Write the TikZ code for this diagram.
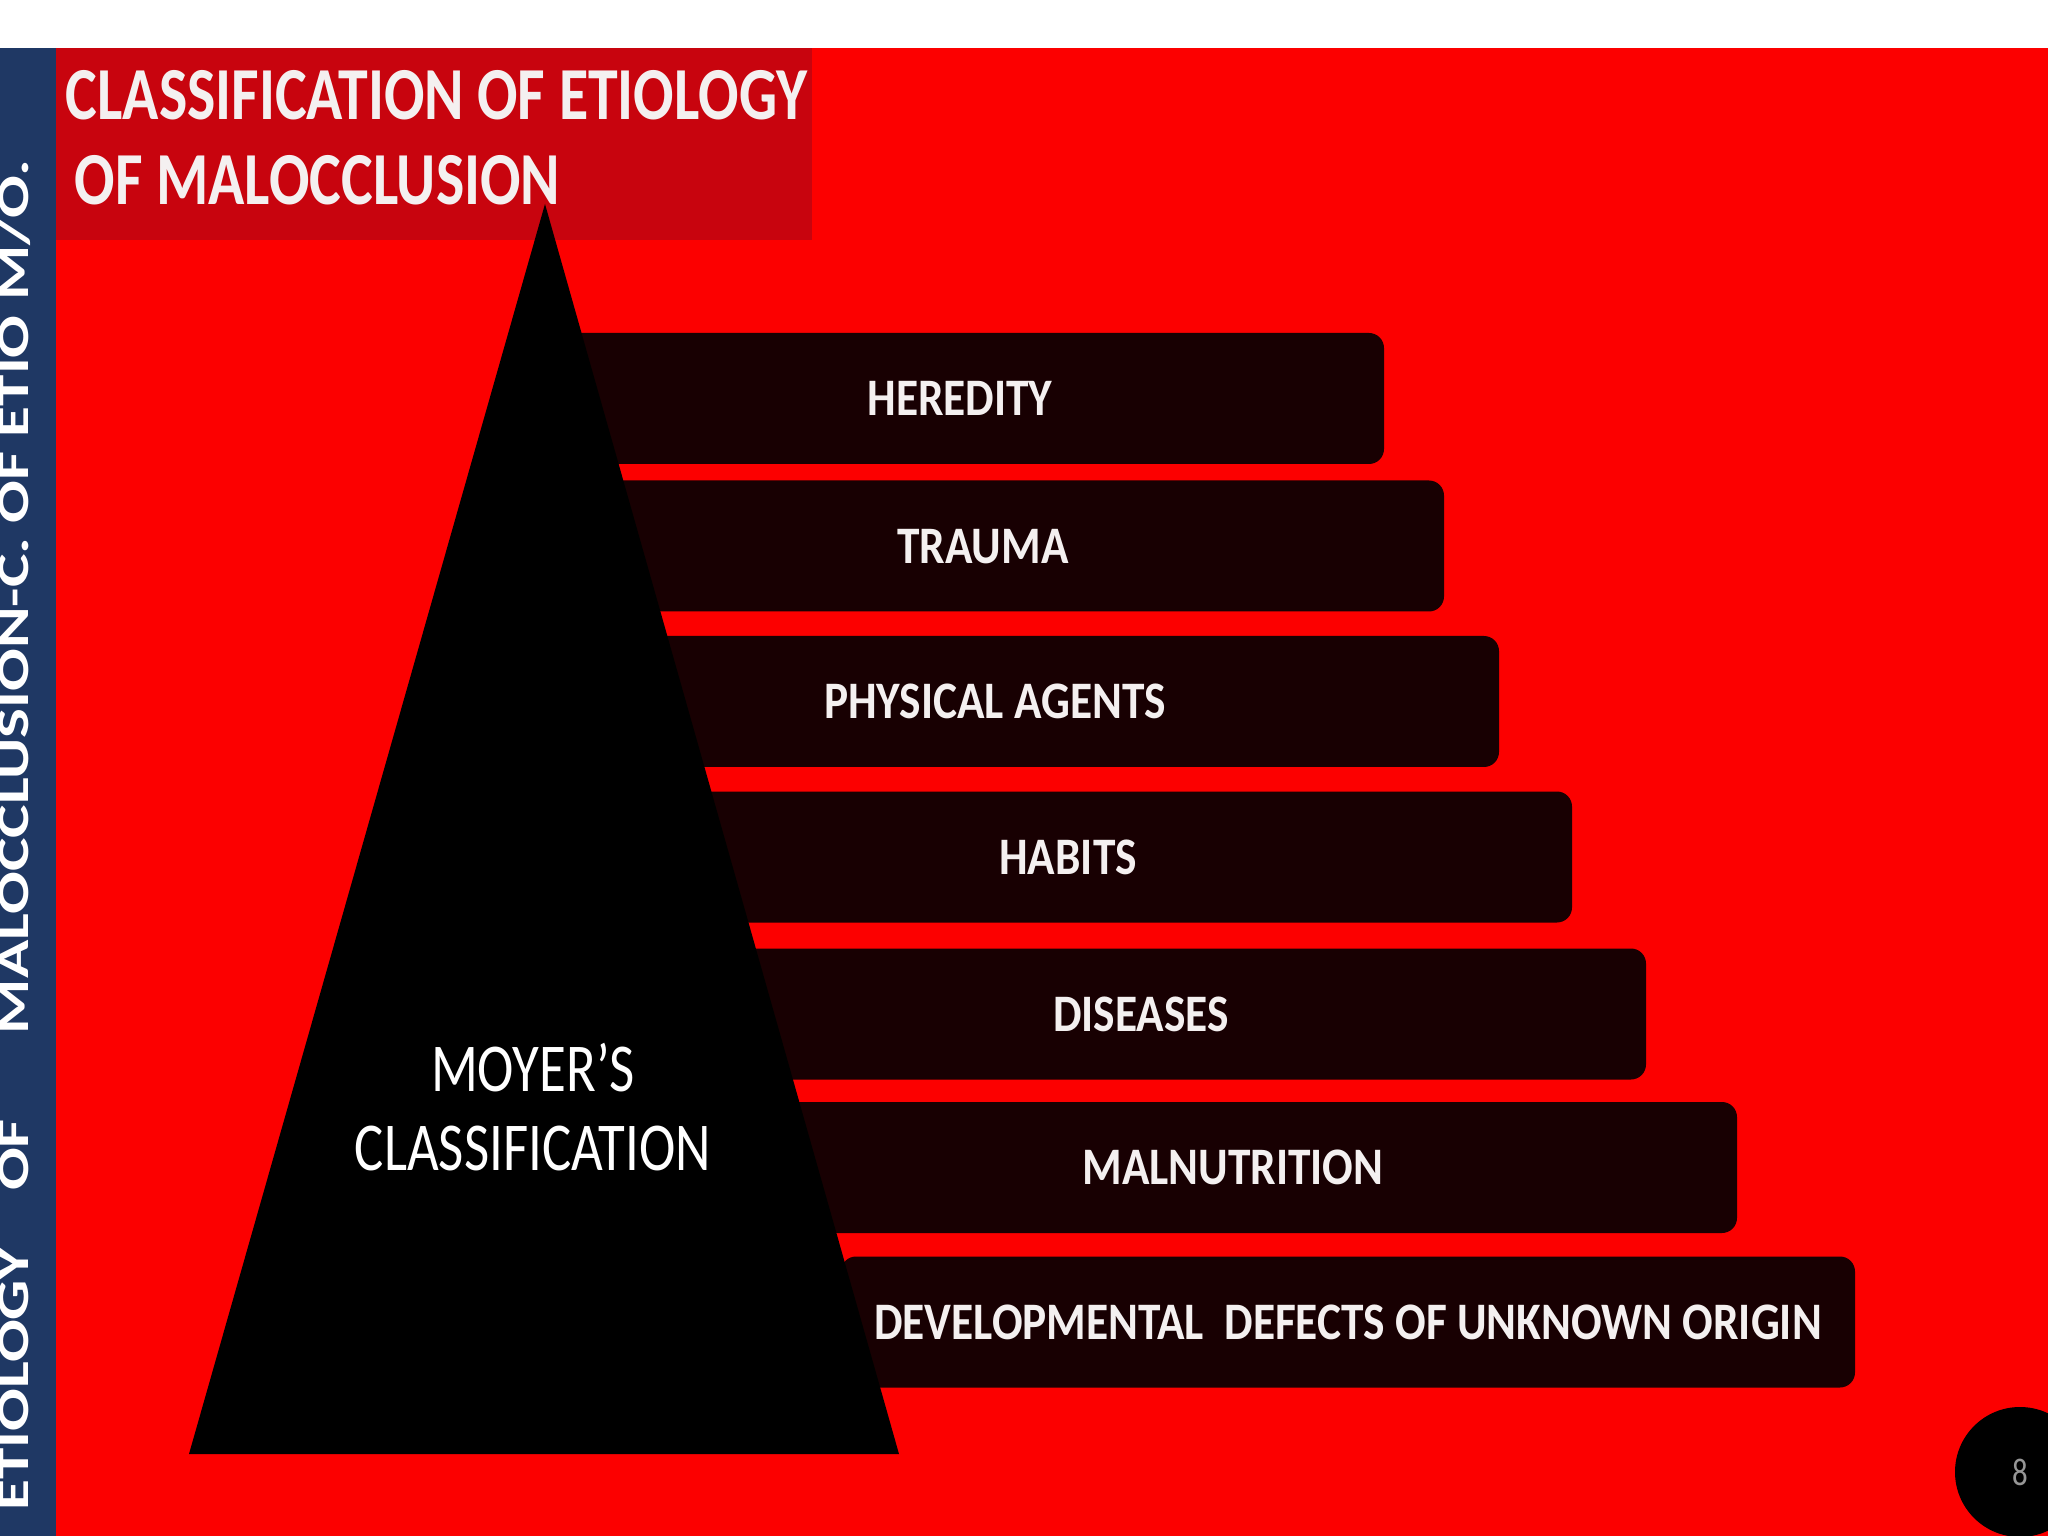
\documentclass[tikz,border=0pt]{standalone}
\usepackage{fontspec}
\usepackage{graphicx}
\setmainfont{Carlito}
\newfontfamily\slidefont{Carlito}[FakeStretch=0.8]
\newfontfamily\barfont{Carlito}[FakeStretch=0.86]

\definecolor{slidered}{RGB}{252,0,0}
\definecolor{titlered}{RGB}{200,4,14}
\definecolor{sideblue}{RGB}{31,56,100}
\definecolor{barbrown}{RGB}{24,0,2}
\definecolor{textwhite}{RGB}{244,240,240}
\definecolor{pagegrey}{RGB}{150,150,150}

\tikzset{
  bar/.style={fill=barbrown, rounded corners=0.15cm, inner sep=0pt, minimum height=1.31cm,
    text=textwhite, font=\barfont\bfseries\fontsize{15}{18}\selectfont,
    text height=0.34cm, text depth=0pt},
  titletext/.style={text=textwhite, inner sep=0pt, anchor=base west,
    font=\slidefont\bfseries\fontsize{21.3}{25}\selectfont},
  moyertext/.style={text=white, inner sep=0pt, align=center,
    font=\slidefont\fontsize{19.5}{22.5}\selectfont},
  sidetext/.style={text=white, inner sep=0pt, rotate=90, anchor=base,
    font=\bfseries\fontsize{18}{20}\selectfont},
  pagedot/.style={circle, fill=black, minimum size=1.3cm, inner sep=0pt,
    text=pagegrey, font=\slidefont\fontsize{11}{12}\selectfont}
}

\begin{document}
\begin{tikzpicture}[x=1cm,y=1cm]
\useasboundingbox (0,0) rectangle (20.48,-15.36);
% slide background
\fill[white] (0,0) rectangle (20.48,-15.36);
\fill[slidered] (0,-0.48) rectangle (20.48,-15.36);
\fill[sideblue] (0,-0.48) rectangle (0.56,-15.36);
\fill[titlered] (0.56,-0.48) rectangle (8.12,-2.40);

% factor bars
\node[bar, minimum width=8.48cm] (heredity) at (9.60,-3.985) {HEREDITY};
\node[bar, minimum width=9.22cm] (trauma) at (9.83,-5.46) {TRAUMA};
\node[bar, minimum width=10.08cm] (physical) at (9.95,-7.015) {PHYSICAL AGENTS};
\node[bar, minimum width=10.08cm] (habits) at (10.68,-8.57) {HABITS};
\node[bar, minimum width=10.10cm] (diseases) at (11.41,-10.14) {DISEASES};
\node[bar, minimum width=10.08cm] (malnutrition) at (12.33,-11.675) {MALNUTRITION};
\node[bar, minimum width=10.14cm] (developmental) at (13.48,-13.22) {DEVELOPMENTAL\ \ DEFECTS OF UNKNOWN ORIGIN};

% pyramid
\coordinate (apex) at (5.45,-2.04);
\coordinate (baseleft) at (1.89,-14.54);
\coordinate (baseright) at (8.99,-14.54);
\fill[black] (apex) -- (baseleft) -- (baseright) -- cycle;

% texts
\node[titletext] (title1) at (0.65,-1.20) {CLASSIFICATION OF ETIOLOGY};
\node[titletext] (title2) at (0.74,-2.05) {OF MALOCCLUSION};
\node[moyertext, anchor=north] (moyer) at (5.33,-10.42) {MOYER’S\\CLASSIFICATION};
\node[sidetext] (side) at (0.29,-8.35)
  {\scalebox{1}[0.72]{ETIOLOGY\hspace{0.57cm}OF\hspace{0.85cm}MALOCCLUSION-C. OF ETIO M/O.}};
\node[pagedot] (page) at (20.20,-14.72) {8};
\end{tikzpicture}
\end{document}
